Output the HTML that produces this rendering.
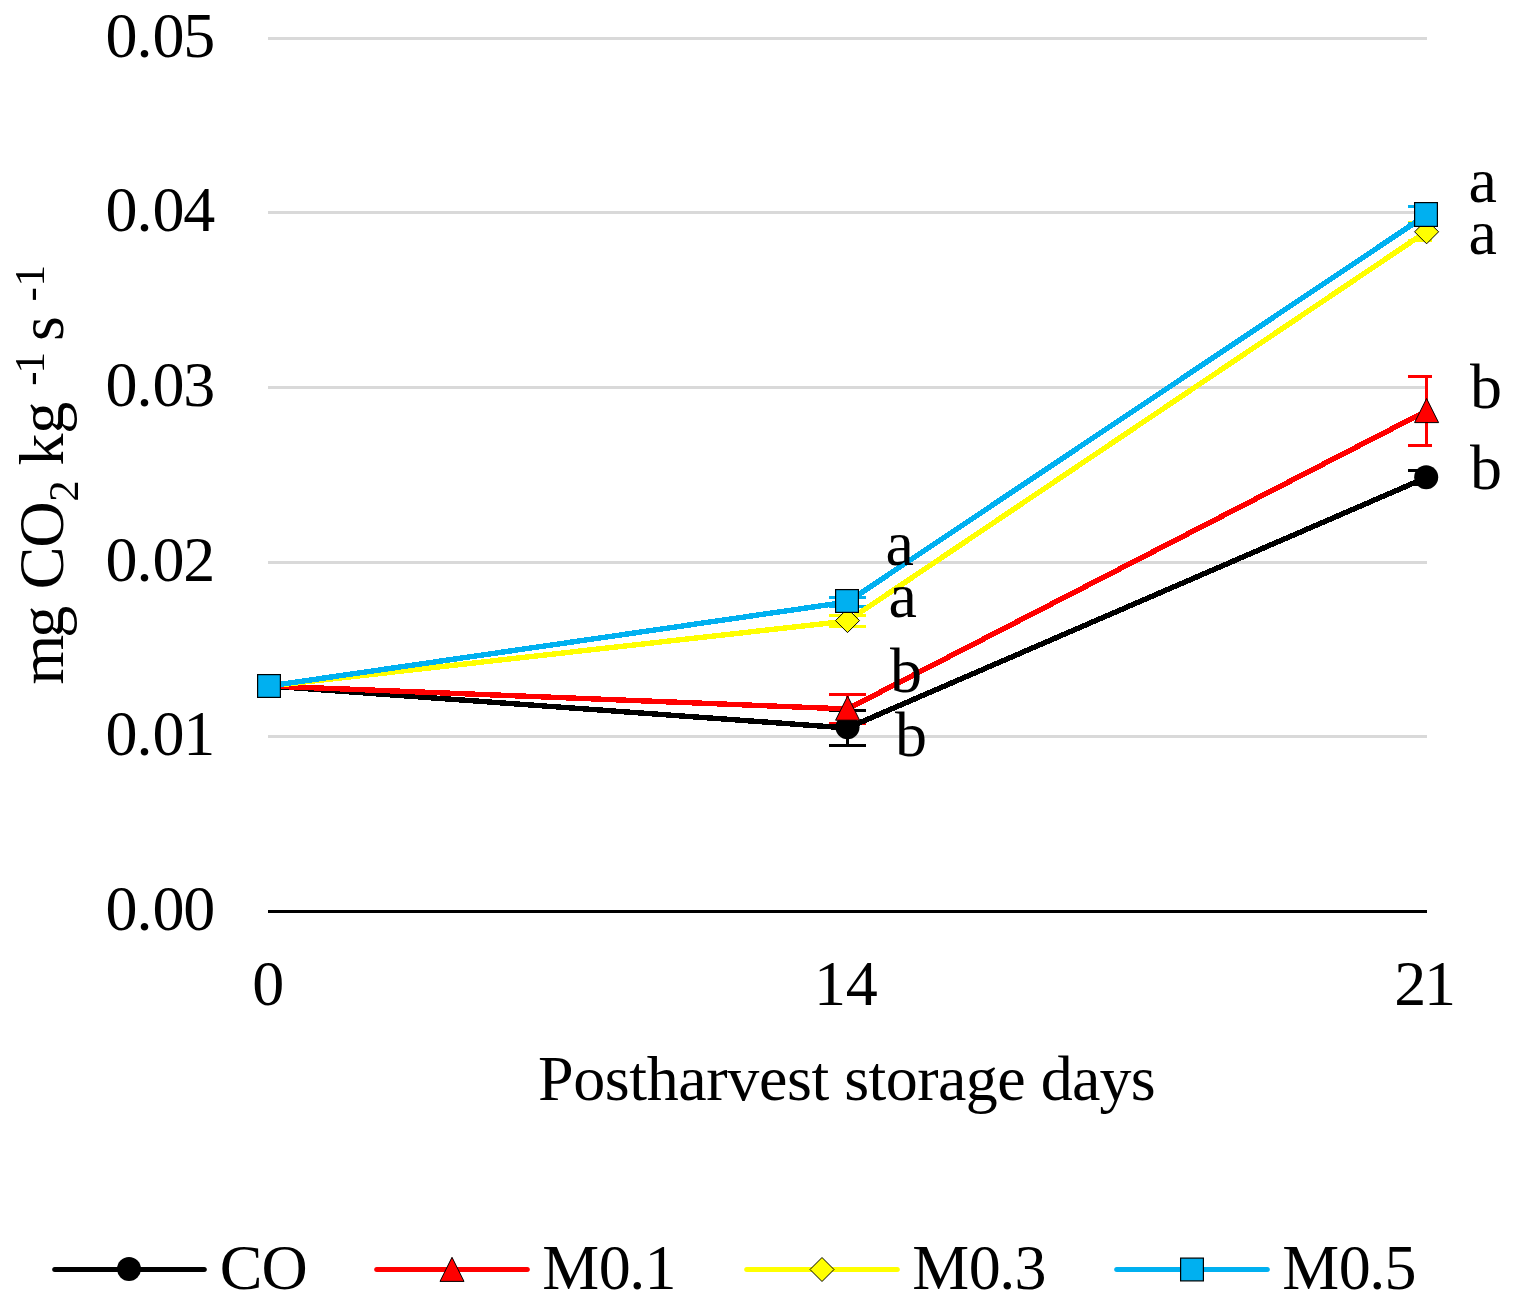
<!DOCTYPE html>
<html lang="en">
<head>
<meta charset="utf-8">
<title>Respiration rate during postharvest storage</title>
<style>
html,body{margin:0;padding:0;background:#fff;}
body{width:1513px;height:1303px;overflow:hidden;}
svg{display:block;}
text{font-family:"Liberation Serif",serif;font-size:64px;fill:#000;font-kerning:none;white-space:pre;}
.s{font-size:43px;}
</style>
</head>
<body>
<svg width="1513" height="1303" viewBox="0 0 1513 1303">
<rect width="1513" height="1303" fill="#fff"/>

<g stroke="#D9D9D9" stroke-width="3" shape-rendering="crispEdges">
<line x1="268" y1="38.5" x2="1427" y2="38.5"/>
<line x1="268" y1="212.5" x2="1427" y2="212.5"/>
<line x1="268" y1="387.5" x2="1427" y2="387.5"/>
<line x1="268" y1="562.5" x2="1427" y2="562.5"/>
<line x1="268" y1="736.5" x2="1427" y2="736.5"/>
</g>
<line x1="268" y1="911.5" x2="1427" y2="911.5" stroke="#000" stroke-width="3" shape-rendering="crispEdges"/>
<defs><clipPath id="eb"><rect x="0" y="0" width="1432" height="1303"/></clipPath></defs>
<g clip-path="url(#eb)" stroke-width="3" fill="none" shape-rendering="crispEdges">
<path d="M847.5 710.5V745.5M829.0 710.5H866.0M829.0 745.5H866.0" stroke="#000000"/>
<path d="M1426.5 470.5V484.5M1408.0 470.5H1445.0M1408.0 484.5H1445.0" stroke="#000000"/>
<path d="M847.5 694.5V723.5M829.0 694.5H866.0M829.0 723.5H866.0" stroke="#FF0000"/>
<path d="M1426.5 376.5V445.5M1408.0 376.5H1445.0M1408.0 445.5H1445.0" stroke="#FF0000"/>
<path d="M847.5 615.5V626.5M829.0 615.5H866.0M829.0 626.5H866.0" stroke="#FFFF00"/>
<path d="M1426.5 222.5V240.5M1408.0 222.5H1445.0M1408.0 240.5H1445.0" stroke="#FFFF00"/>
<path d="M847.5 597.5V606.5M829.0 597.5H866.0M829.0 606.5H866.0" stroke="#00B0F0"/>
<path d="M1426.5 206.5V223.5M1408.0 206.5H1445.0M1408.0 223.5H1445.0" stroke="#00B0F0"/>
</g>
<polyline points="269,686 847.5,728 1426.5,477.5" fill="none" stroke="#000000" stroke-width="5.4" stroke-linejoin="round" shape-rendering="crispEdges"/>
<circle cx="847.5" cy="727.2" r="12" fill="#000"/>
<circle cx="1426.2" cy="477.3" r="12" fill="#000"/>
<polyline points="269,686 847.5,709 1426.5,411" fill="none" stroke="#FF0000" stroke-width="5.4" stroke-linejoin="round" shape-rendering="crispEdges"/>
<path d="M847.6 696.1L859.6 720.2H835.6Z" fill="#FF0000" stroke="#000" stroke-width="1"/>
<path d="M1426.6 398.5L1438.6 422.6H1414.6Z" fill="#FF0000" stroke="#000" stroke-width="1"/>
<polyline points="269,686 847.5,621 1426.5,231.5" fill="none" stroke="#FFFF00" stroke-width="5.4" stroke-linejoin="round" shape-rendering="crispEdges"/>
<path d="M847.5 608.6L859.5 620.6L847.5 632.6L835.5 620.6Z" fill="#FFFF00" stroke="#000" stroke-width="1"/>
<path d="M1426.6 219.8L1438.6 231.8L1426.6 243.8L1414.6 231.8Z" fill="#FFFF00" stroke="#000" stroke-width="1"/>
<polyline points="269,686 847.5,602 1426.5,215" fill="none" stroke="#00B0F0" stroke-width="5.4" stroke-linejoin="round" shape-rendering="crispEdges"/>
<rect x="257.6" y="674.6" width="22.8" height="22.8" fill="#00B0F0" stroke="#000" stroke-width="1.2"/>
<rect x="835.6" y="589.6" width="22.8" height="22.8" fill="#00B0F0" stroke="#000" stroke-width="1.2"/>
<rect x="1414.6" y="202.6" width="22.8" height="23.8" fill="#00B0F0" stroke="#000" stroke-width="1.2"/>
<text x="105.5 136.4 152.6 183.2" y="57.2">0.05</text>
<text x="105.5 136.4 152.6 183.2" y="231.2">0.04</text>
<text x="105.5 136.4 152.6 183.2" y="406.2">0.03</text>
<text x="105.5 136.4 152.6 183.2" y="581.2">0.02</text>
<text x="105.5 136.4 152.6 183.2" y="755.2">0.01</text>
<text x="105.5 136.4 152.6 183.2" y="930.2">0.00</text>
<text x="252.3" y="1004.6">0</text>
<text x="814 845.8" y="1004.9">14</text>
<text x="1394.2 1424" y="1004.9">21</text>
<text y="1100"><tspan x="537.96" letter-spacing="-0.38">Postharvest</tspan> <tspan x="844.27" letter-spacing="-0.59">storage</tspan> <tspan x="1040.79" letter-spacing="-0.8">days</tspan></text>
<text transform="translate(63.1 684.4) rotate(-90)"><tspan x="0 46.6" y="0">mg</tspan> <tspan x="95.1 136.8" y="0">CO</tspan><tspan class="s" x="182.6" y="15">2</tspan> <tspan x="219 250.6" y="0">kg</tspan> <tspan class="s" x="298.7 311" y="-19.4">-1</tspan> <tspan x="343.5" y="0">s</tspan> <tspan class="s" x="382.9 398" y="-19.4">-1</tspan></text>
<text x="885.6" y="565.4">a</text>
<text x="888.6" y="616.5">a</text>
<text x="889.9" y="692.2">b</text>
<text x="894.9" y="756.3">b</text>
<text x="1468.6" y="202.4">a</text>
<text x="1468.6" y="254.3">a</text>
<text x="1470" y="407.5">b</text>
<text x="1470" y="488.7">b</text>
<line x1="54.7" y1="1269.5" x2="204.3" y2="1269.5" stroke="#000000" stroke-width="5" stroke-linecap="round"/>
<circle cx="129" cy="1269" r="12" fill="#000"/>
<text x="219.7 261.4" y="1288.7">CO</text>
<line x1="376.7" y1="1269.5" x2="527.3" y2="1269.5" stroke="#FF0000" stroke-width="5" stroke-linecap="round"/>
<path d="M452 1257.3L464 1281.4H440Z" fill="#FF0000" stroke="#000" stroke-width="1"/>
<text x="542.2 598.7 629.3 644.5" y="1288.7">M0.1</text>
<line x1="746.7" y1="1269.5" x2="897.3" y2="1269.5" stroke="#FFFF00" stroke-width="5" stroke-linecap="round"/>
<path d="M822 1257.5L834 1269.5L822 1281.5L810 1269.5Z" fill="#FFFF00" stroke="#000" stroke-width="1"/>
<text x="912.2 968.7 999.3 1014.5" y="1288.7">M0.3</text>
<line x1="1116.7" y1="1269.5" x2="1267.3" y2="1269.5" stroke="#00B0F0" stroke-width="5" stroke-linecap="round"/>
<rect x="1180.6" y="1258.1" width="22.8" height="22.8" fill="#00B0F0" stroke="#000" stroke-width="1.2"/>
<text x="1282.2 1338.7 1369.3 1384.5" y="1288.7">M0.5</text>
</svg>
</body>
</html>
